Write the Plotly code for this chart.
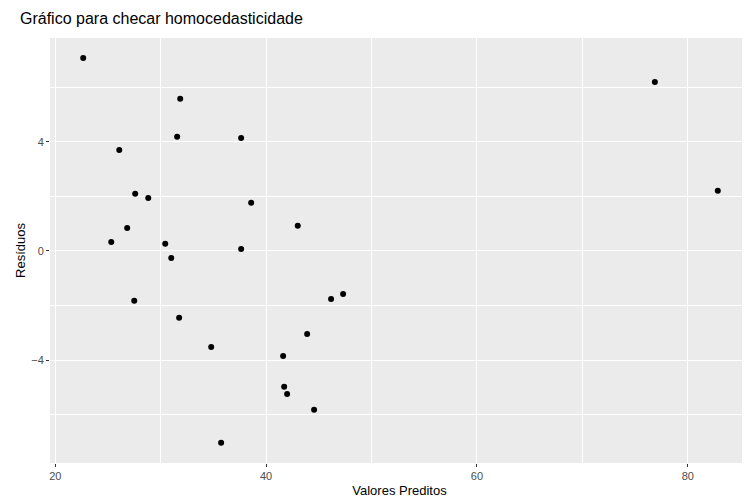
import plotly.graph_objects as go

preditos = [22.65, 31.85, 26.07, 31.56, 37.63, 27.58, 28.82, 38.58, 43.0, 26.82, 25.31, 30.43,
            31.0, 37.63, 27.49, 46.16, 47.30, 31.75, 43.89, 34.79, 41.61, 41.71, 41.99, 44.55,
            35.73, 76.87, 82.84]
residuos = [7.07, 5.57, 3.70, 4.18, 4.14, 2.09, 1.94, 1.76, 0.92, 0.84, 0.33, 0.26,
            -0.26, 0.07, -1.83, -1.76, -1.58, -2.45, -3.04, -3.52, -3.85, -4.98, -5.24, -5.82,
            -7.03, 6.19, 2.20]

fig = go.Figure(go.Scatter(x=preditos, y=residuos, mode="markers",
                           marker=dict(color="black", size=6)))

axis_common = dict(showgrid=True, gridcolor="white", gridwidth=1.2, zeroline=False,
                   ticks="outside", ticklen=3, tickcolor="#333333", automargin=False,
                   tickfont=dict(size=11, color="#4d4d4d"), showline=False)

fig.update_layout(
    width=750, height=500,
    paper_bgcolor="white", plot_bgcolor="#EBEBEB",
    margin=dict(l=42, r=9, t=30, b=45),
    font=dict(family="Liberation Sans, Arial", color="black"),
    title=dict(text="Gráfico para checar homocedasticidade", x=0.016, xanchor="left",
               y=0.99, yanchor="top", font=dict(size=16), automargin=False),
    showlegend=False,
    xaxis=dict(range=[19.5, 85.8], tick0=0, dtick=20,
               minor=dict(dtick=10, tick0=0, showgrid=True, gridcolor="white", gridwidth=0.5, ticks=""),
               title=dict(text="Valores Preditos", font=dict(size=13), standoff=4), **axis_common),
    yaxis=dict(range=[-7.77, 7.8], tick0=0, dtick=4,
               minor=dict(dtick=2, tick0=0, showgrid=True, gridcolor="white", gridwidth=0.5, ticks=""),
               title=dict(text="Resíduos", font=dict(size=13), standoff=2), **axis_common),
)

fig.write_html("out.html")
